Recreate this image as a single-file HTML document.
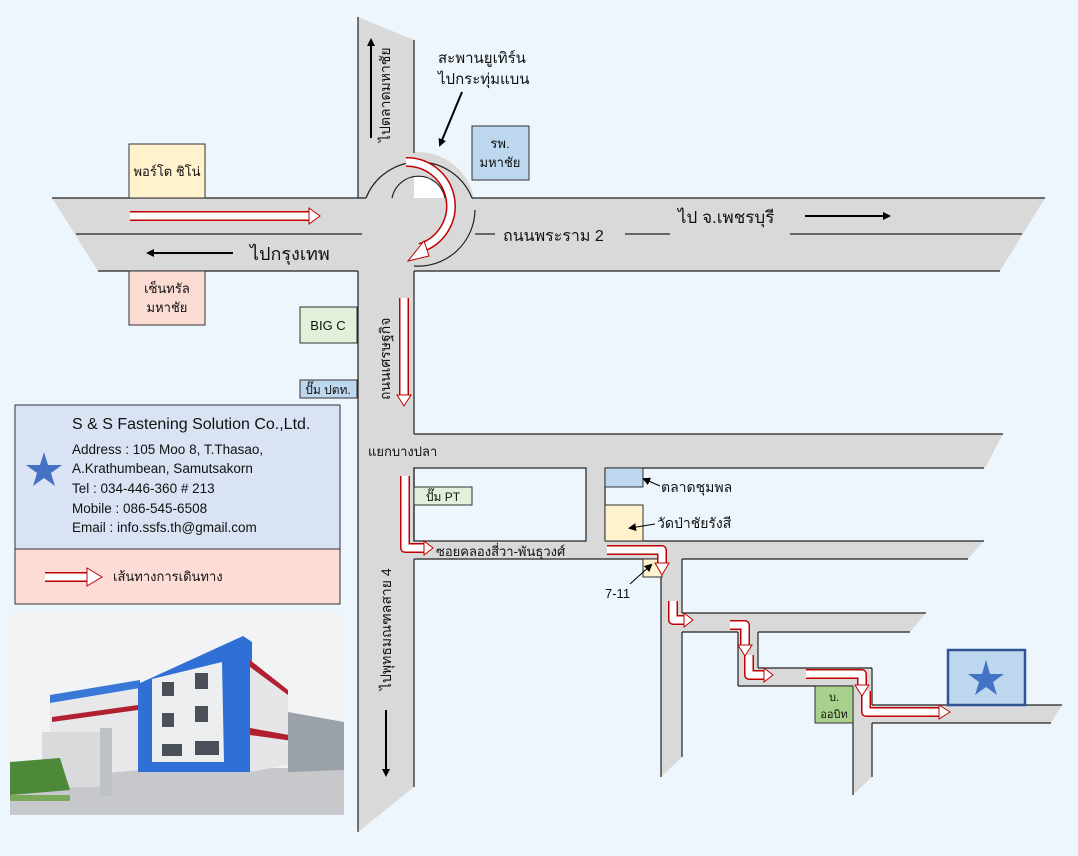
<!DOCTYPE html>
<html><head><meta charset="utf-8"><style>
html,body{margin:0;padding:0;background:#eef6fd;}
svg{display:block;font-family:"Liberation Sans","Noto Sans CJK SC","WenQuanYi Zen Hei",sans-serif;}
</style></head><body>
<svg width="1078" height="856" viewBox="0 0 1078 856" xmlns="http://www.w3.org/2000/svg">
<rect width="1078" height="856" fill="#eef6fd"/>
<defs>
<marker id="ah" markerWidth="8" markerHeight="8" refX="6" refY="4" orient="auto" markerUnits="userSpaceOnUse"><path d="M0,0 L8,4 L0,8 Z" fill="#000"/></marker>
</defs>
<g fill="#d9d9d9" stroke="none">
<polygon points="358,17 414,40 414,787 358,832"/>
<polygon points="52,198 1045,198 1000,271 98,271"/>
<circle cx="418" cy="209" r="57"/>
<polygon points="414,434 1003,434 985,468 414,468"/>
<rect x="586" y="468" width="19" height="74"/>
<polygon points="414,541 984,541 968,559 414,559"/>
<polygon points="661,559 682,559 682,757 661,777"/>
<polygon points="682,613 926,613 910,632 682,632"/>
<polygon points="738,632 758,632 758,668 738,668"/>
<polygon points="738,668 872,668 872,686 738,686"/>
<polygon points="853,686 872,686 872,777 853,795"/>
<polygon points="872,705 1062,705 1051,723 872,723"/>
</g>
<path d="M414,198 L414,177 A27,27 0 0 1 445,198 Z" fill="#fff"/>
<g stroke="#222" stroke-width="1.2" fill="none">
<line x1="358" y1="17" x2="358" y2="198"/>
<line x1="414" y1="40" x2="414" y2="153"/>
<line x1="52" y1="198" x2="366" y2="198"/>
<line x1="472" y1="198" x2="1045" y2="198"/>
<line x1="98" y1="271" x2="358" y2="271"/>
<line x1="414" y1="271" x2="1000" y2="271"/>
<line x1="76" y1="234" x2="362" y2="234"/>
<line x1="475" y1="234" x2="495" y2="234"/>
<line x1="625" y1="234" x2="670" y2="234"/>
<line x1="790" y1="234" x2="1022" y2="234"/>
<path d="M366,198 A57,57 0 0 1 472,198"/>
<path d="M475,210 A57,57 0 0 1 414,266"/>
<path d="M392,198 A27,27 0 0 1 445,198"/>
<line x1="358" y1="271" x2="358" y2="832"/>
<line x1="414" y1="271" x2="414" y2="434"/>
<line x1="414" y1="434" x2="1003" y2="434"/>
<line x1="414" y1="468" x2="414" y2="541"/>
<line x1="414" y1="559" x2="414" y2="787"/>
<rect x="414" y="468" width="172" height="73"/>
<line x1="605" y1="468" x2="984" y2="468"/>
<line x1="605" y1="468" x2="605" y2="541"/>
<line x1="605" y1="541" x2="984" y2="541"/>
<line x1="414" y1="559" x2="661" y2="559"/>
<line x1="682" y1="559" x2="968" y2="559"/>
<line x1="661" y1="559" x2="661" y2="777"/>
<line x1="682" y1="559" x2="682" y2="613"/>
<line x1="682" y1="632" x2="682" y2="757"/>
<line x1="682" y1="613" x2="926" y2="613"/>
<line x1="682" y1="632" x2="738" y2="632"/>
<line x1="758" y1="632" x2="910" y2="632"/>
<line x1="738" y1="632" x2="738" y2="686"/>
<line x1="758" y1="632" x2="758" y2="668"/>
<line x1="758" y1="668" x2="872" y2="668"/>
<line x1="738" y1="686" x2="853" y2="686"/>
<line x1="872" y1="668" x2="872" y2="705"/>
<line x1="853" y1="686" x2="853" y2="795"/>
<line x1="872" y1="723" x2="872" y2="777"/>
<line x1="872" y1="705" x2="1062" y2="705"/>
<line x1="872" y1="723" x2="1051" y2="723"/>
</g>
<g stroke="#333" stroke-width="1">
<rect x="129" y="144" width="76" height="54" fill="#fff2cc"/>
<rect x="129" y="271" width="76" height="54" fill="#fbdcd3"/>
<rect x="300" y="307" width="57" height="36" fill="#e2f0d9"/>
<rect x="300" y="380" width="57" height="18" fill="#bdd7ee"/>
<rect x="472" y="126" width="57" height="54" fill="#bdd7ee"/>
<rect x="414" y="487" width="58" height="18" fill="#e2f0d9"/>
<rect x="605" y="468" width="38" height="19" fill="#bdd7ee"/>
<rect x="605" y="505" width="38" height="36" fill="#fff2cc"/>
<rect x="643" y="559" width="19" height="18" fill="#fff2cc"/>
<rect x="815" y="686" width="38" height="37" fill="#a9d18e"/>
<rect x="948" y="650" width="77" height="55" fill="#bdd7ee" stroke="#2f5597" stroke-width="2.5"/>
<rect x="15" y="405" width="325" height="144" fill="#dae3f3"/>
<rect x="15" y="549" width="325" height="55" fill="#fcdcd4"/>
</g>
<polygon points="986,660 990,674 1004,674 993,682 997,695 986,687 975,695 979,682 968,674 982,674" fill="#4472c4"/>
<polygon points="44,452 48,465 62,465 51,473 55,486 44,478 33,486 37,473 26,465 40,465" fill="#4472c4"/>
<g fill="#111">
<text x="167" y="176" font-size="13" text-anchor="middle">พอร์โต ชิโน่</text>
<text x="167" y="293" font-size="13" text-anchor="middle">เซ็นทรัล</text>
<text x="167" y="312" font-size="13" text-anchor="middle">มหาชัย</text>
<text x="328" y="330" font-size="13" text-anchor="middle">BIG C</text>
<text x="328" y="394" font-size="12" text-anchor="middle">ปั๊ม ปตท.</text>
<text x="500" y="148" font-size="13" text-anchor="middle">รพ.</text>
<text x="500" y="167" font-size="13" text-anchor="middle">มหาชัย</text>
<text x="443" y="501" font-size="12" text-anchor="middle">ปั๊ม PT</text>
<text x="834" y="701" font-size="11" text-anchor="middle">บ.</text>
<text x="834" y="718" font-size="11" text-anchor="middle">ออบิท</text>
<text x="438" y="63" font-size="15">สะพานยูเทิร์น</text>
<text x="438" y="84" font-size="15">ไปกระทุ่มแบน</text>
<text x="678" y="223" font-size="17">ไป จ.เพชรบุรี</text>
<text x="503" y="241" font-size="16">ถนนพระราม 2</text>
<text x="250" y="260" font-size="18">ไปกรุงเทพ</text>
<text x="368" y="456" font-size="13">แยกบางปลา</text>
<text x="436" y="556" font-size="13">ซอยคลองสี่วา-พันธุวงศ์</text>
<text x="661" y="492" font-size="14">ตลาดชุมพล</text>
<text x="657" y="528" font-size="14">วัดป่าชัยรังสี</text>
<text x="605" y="598" font-size="13">7-11</text>
<text transform="translate(390,142) rotate(-90)" font-size="14">ไปตลาดมหาชัย</text>
<text transform="translate(390,400) rotate(-90)" font-size="14">ถนนเศรษฐกิจ</text>
<text transform="translate(391,690) rotate(-90)" font-size="14">ไปพุทธมณฑลสาย 4</text>
<text x="72" y="429" font-size="16">S &amp; S Fastening Solution Co.,Ltd.</text>
<text x="72" y="454" font-size="13.5">Address : 105 Moo 8, T.Thasao,</text>
<text x="72" y="473" font-size="13.5">A.Krathumbean, Samutsakorn</text>
<text x="72" y="493" font-size="13.5">Tel : 034-446-360 # 213</text>
<text x="72" y="513" font-size="13.5">Mobile : 086-545-6508</text>
<text x="72" y="532" font-size="13.5">Email : info.ssfs.th@gmail.com</text>
<text x="113" y="581" font-size="13">เส้นทางการเดินทาง</text>
</g>
<g stroke="#000" stroke-width="2" fill="none" marker-end="url(#ah)">
<line x1="462" y1="92" x2="440" y2="145"/>
<line x1="371" y1="138" x2="371" y2="40"/>
<line x1="805" y1="216" x2="889" y2="216"/>
<line x1="233" y1="253" x2="148" y2="253"/>
<line x1="386" y1="710" x2="386" y2="775"/>
</g>
<g stroke="#000" stroke-width="1" fill="none" marker-end="url(#ah)">
<line x1="660" y1="486" x2="644" y2="479"/>
<line x1="655" y1="524" x2="630" y2="528"/>
<line x1="630" y1="584" x2="651" y2="565"/>
</g>
<g stroke-linejoin="round" fill="none">
<g stroke="#c00000" stroke-width="10">
<path d="M130,216 L310,216"/>
<path d="M406,162 A44,44 0 0 1 420,248"/>
<path d="M404,298 L404,396"/>
<path d="M405,476 L405,548 L425,548"/>
<path d="M607,550 L662,550 L662,564"/>
<path d="M673,601 L673,620 L685,620"/>
<path d="M730,625 L745,625 L745,646"/>
<path d="M749,655 L749,675 L765,675"/>
<path d="M806,674 L862,674 L862,686"/>
<path d="M866,691 L866,712 L940,712"/>
<path d="M45,577 L88,577"/>
</g>
<g stroke="#fff" stroke-width="7">
<path d="M130,216 L310,216"/>
<path d="M406,162 A44,44 0 0 1 420,248"/>
<path d="M404,298 L404,396"/>
<path d="M405,476 L405,548 L425,548"/>
<path d="M607,550 L662,550 L662,564"/>
<path d="M673,601 L673,620 L685,620"/>
<path d="M730,625 L745,625 L745,646"/>
<path d="M749,655 L749,675 L765,675"/>
<path d="M806,674 L862,674 L862,686"/>
<path d="M866,691 L866,712 L940,712"/>
<path d="M45,577 L88,577"/>
</g>
</g>
<g fill="#fff" stroke="#c00000" stroke-width="1">
<polygon points="309,208 320,216 309,224"/>
<polygon points="424,241 408,261 429,256"/>
<polygon points="397,395 404,406 411,395"/>
<polygon points="424,541 433,548 424,555"/>
<polygon points="655,563 662,575 669,563"/>
<polygon points="684,613 693,620 684,627"/>
<polygon points="738,645 745,656 752,645"/>
<polygon points="764,668 773,675 764,682"/>
<polygon points="855,685 862,696 869,685"/>
<polygon points="939,705 950,712 939,719"/>
<polygon points="87,568 102,577 87,586"/>
</g>
<g>
<rect x="10" y="612" width="334" height="203" fill="#f2f3f5"/>
<rect x="10" y="768" width="334" height="47" fill="#c6c8cb"/>
<polygon points="50,695 140,680 140,770 50,778" fill="#e8e8ea"/>
<polygon points="50,695 140,680 140,688 50,703" fill="#3a78d8"/>
<polygon points="52,717 138,705 138,710 52,722" fill="#b02030"/>
<polygon points="138,684 243,636 252,642 252,772 138,772" fill="#2f6fd6"/>
<polygon points="152,679 222,662 224,762 152,762" fill="#eceef0"/>
<g fill="#4a5058">
<rect x="162" y="682" width="12" height="14"/><rect x="195" y="673" width="13" height="16"/>
<rect x="162" y="713" width="12" height="14"/><rect x="195" y="706" width="13" height="16"/>
<rect x="162" y="744" width="20" height="12"/><rect x="195" y="741" width="24" height="14"/>
</g>
<polygon points="250,660 288,690 288,765 250,772" fill="#e6e6e8"/>
<polygon points="250,660 288,690 288,695 250,667" fill="#b02030"/>
<polygon points="250,728 300,737 300,742 250,735" fill="#b02030"/>
<polygon points="288,712 344,722 344,770 288,772" fill="#9aa1a8"/>
<rect x="42" y="732" width="60" height="55" fill="#d8dadc"/>
<rect x="100" y="728" width="12" height="68" fill="#bfc2c5"/>
<polygon points="10,762 60,758 70,790 10,795" fill="#4c8a3a"/>
<rect x="10" y="795" width="60" height="6" fill="#7aa85a"/>
</g>
</svg>
</body></html>
